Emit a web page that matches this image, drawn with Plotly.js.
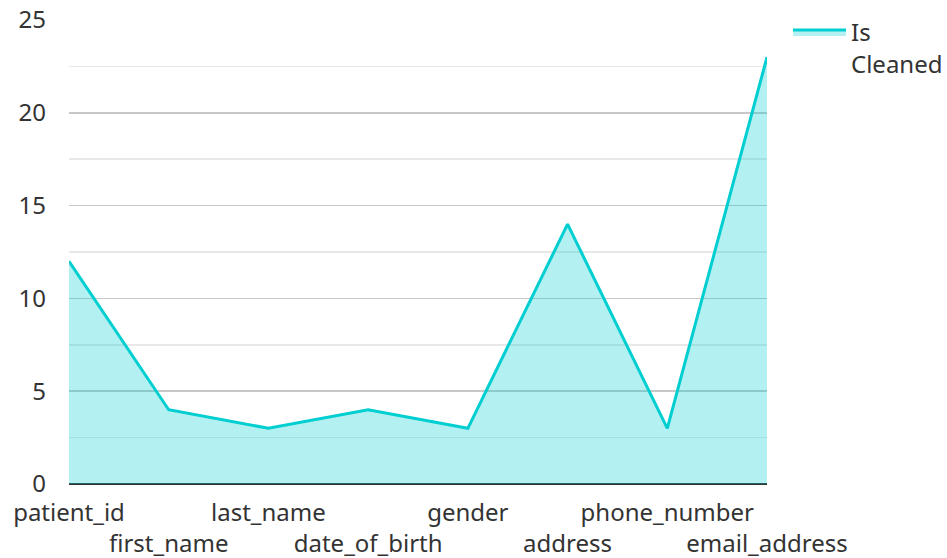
<!DOCTYPE html>
<html><head><meta charset="utf-8">
<script src="https://cdn.plot.ly/plotly-3.0.1.min.js"></script>
<style>html,body{margin:0;padding:0;background:#fff}#c{width:947px;height:558px}</style>
</head><body><div id="c"></div>
<script>
const categories = ["patient_id","first_name","last_name","date_of_birth","gender","address","phone_number","email_address"];
const isCleaned = [12, 4, 3, 4, 3, 14, 3, 23];
const yTicks = [0, 5, 10, 15, 20, 25];

const xIdx = categories.map((_, i) => i);
const tickText = categories.map((c, i) => i % 2 === 1 ? "<br>" + c : c);

Plotly.newPlot("c", [{
  x: xIdx, y: isCleaned, type: "scatter", mode: "lines",
  name: "Is<br>Cleaned", fill: "tozeroy",
  line: {color: "#00CED1", width: 3},
  fillcolor: "rgba(0,206,209,0.3)"
}], {
  width: 947, height: 558,
  margin: {l: 69, r: 180, t: 20, b: 74},
  paper_bgcolor: "#fff", plot_bgcolor: "#fff",
  font: {family: "Noto Sans", size: 24, color: "#333"},
  showlegend: true,
  legend: {xref: "container", yref: "container", x: 788/947, y: 1 - 10/558, xanchor: "left", yanchor: "top",
           itemwidth: 53, valign: "top", font: {size: 24, color: "#333"}},
  xaxis: {range: [0, 7], tickmode: "array", tickvals: xIdx, ticktext: tickText, tickangle: 0,
          showgrid: false, zeroline: false, showline: false, ticks: "", fixedrange: true, ticklabelstandoff: 12},
  yaxis: {range: [0, 25], tickmode: "array", tickvals: yTicks, showgrid: true, gridcolor: "#c8c8c8",
          gridwidth: 1.5, minor: {dtick: 2.5, showgrid: true, gridcolor: "#e8e8e8", gridwidth: 1.5, ticks: ""},
          zeroline: true, zerolinecolor: "#333", zerolinewidth: 2, ticks: "", ticklabelstandoff: 22}
}, {displayModeBar: false, staticPlot: true});
</script></body></html>
